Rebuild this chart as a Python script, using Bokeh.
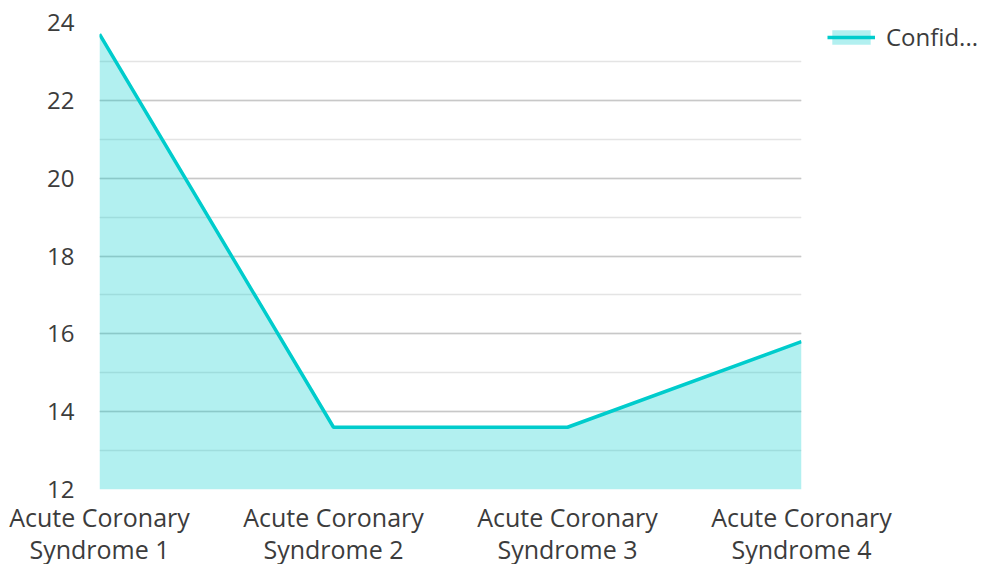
from bokeh.plotting import figure
from bokeh.models import ColumnDataSource, Legend, LegendItem, SingleIntervalTicker, Range1d
from bokeh.embed import file_html
from bokeh.resources import INLINE

categories = ["Acute Coronary\nSyndrome 1", "Acute Coronary\nSyndrome 2",
              "Acute Coronary\nSyndrome 3", "Acute Coronary\nSyndrome 4"]
values = [23.7, 13.6, 13.6, 15.8]
series_name = "Confid..."
y_min, y_max = 12, 24

xs = list(range(len(categories)))
src = ColumnDataSource(dict(x=xs, y=values, base=[y_min] * len(values)))

p = figure(frame_width=702, frame_height=467, output_backend="svg", toolbar_location=None,
           x_range=Range1d(0, len(categories) - 1), y_range=Range1d(y_min, y_max),
           min_border_left=99, min_border_top=22, min_border_bottom=74, min_border_right=0,
           outline_line_color=None)

area = p.varea(x="x", y1="base", y2="y", source=src, fill_color="#00cccc", fill_alpha=0.3)
line = p.line(x="x", y="y", source=src, line_color="#00cccc", line_width=3.5)

p.yaxis.ticker = SingleIntervalTicker(interval=2, num_minor_ticks=2)
p.xaxis.ticker = xs
p.xaxis.major_label_overrides = {i: c for i, c in enumerate(categories)}

for ax in (p.xaxis[0], p.yaxis[0]):
    ax.axis_line_color = None
    ax.major_tick_line_color = None
    ax.minor_tick_line_color = None
    ax.major_label_text_font = "Open Sans"
    ax.major_label_text_font_size = "24px"
    ax.major_label_text_color = "#3c3c3c"
p.xaxis.major_label_text_font_size = "25px"
p.xaxis.major_label_text_line_height = 0.97
p.yaxis.major_label_standoff = 19
p.xaxis.major_label_standoff = 4

p.xgrid.grid_line_color = None
p.ygrid.grid_line_color = "#c8c8c8"
p.ygrid.grid_line_width = 1.5
p.ygrid.minor_grid_line_color = "#e4e4e4"
p.ygrid.minor_grid_line_width = 1.5

legend = Legend(items=[LegendItem(label=series_name, renderers=[area, line])],
                location=(26, 436), border_line_color=None, background_fill_alpha=0,
                label_text_font="Open Sans", label_text_font_size="24px",
                label_text_color="#3c3c3c", glyph_width=48, glyph_height=18,
                margin=0, padding=0, label_standoff=11)
p.add_layout(legend, "right")

open("out.html", "w").write(file_html(p, INLINE))
